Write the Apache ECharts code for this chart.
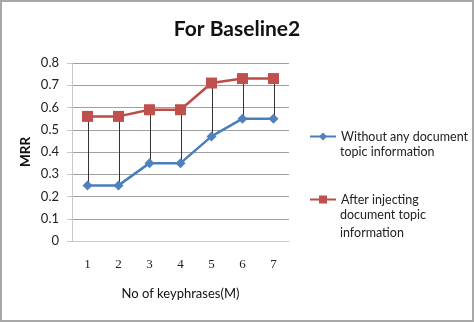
<!DOCTYPE html>
<html>
<head>
<meta charset="utf-8">
<script src="https://cdn.jsdelivr.net/npm/echarts@6/dist/echarts.min.js"></script>
<style>
  html, body { margin: 0; padding: 0; background: #fff; }
  #chart { width: 474px; height: 322px; }
</style>
</head>
<body>
<div id="chart"></div>
<script>
// MRR by number of keyphrases, with and without document topic information
const keyphrases = ['1', '2', '3', '4', '5', '6', '7'];
const withoutTopic = [0.25, 0.25, 0.35, 0.35, 0.47, 0.55, 0.55];
const withTopic = [0.56, 0.56, 0.59, 0.59, 0.71, 0.73, 0.73];
const yTicks = [0, 0.1, 0.2, 0.3, 0.4, 0.5, 0.6, 0.7, 0.8];

const nameWithout = 'Without any document';
const nameWith = 'After injecting';

const BLUE = '#4a7ebb';
const RED = '#be4b48';
const LEGEND_FONT = { fontFamily: 'Lato', fontSize: 12.5, color: '#222' };

const chart = echarts.init(document.getElementById('chart'), null, { renderer: 'canvas' });

// pair each category with its low/high value for the high-low connectors
const hiLo = keyphrases.map((k, i) => [i, withoutTopic[i], withTopic[i]]);

chart.setOption({
  backgroundColor: '#fff',
  animation: false,
  title: {
    text: 'For Baseline2',
    left: 'center',
    top: 14,
    textStyle: { fontFamily: 'Lato', fontSize: 21, fontWeight: 'bold', color: '#111' }
  },
  legend: [
    {
      data: [nameWithout],
      left: 304, top: 125,
      itemWidth: 26, itemHeight: 10,
      textStyle: LEGEND_FONT
    },
    {
      data: [nameWith],
      left: 304, top: 188,
      itemWidth: 26, itemHeight: 10,
      textStyle: LEGEND_FONT
    }
  ],
  grid: { left: 72, right: 185, top: 63, bottom: 81 },
  xAxis: {
    type: 'category',
    data: keyphrases,
    boundaryGap: true,
    name: 'No of keyphrases(M)',
    nameLocation: 'middle',
    nameGap: 46,
    nameTextStyle: { fontFamily: 'Lato', fontSize: 13, color: '#111' },
    axisLine: { lineStyle: { color: '#c8c8c8', width: 1 } },
    axisTick: { show: false },
    axisLabel: { fontFamily: 'Liberation Serif', fontSize: 13, color: '#222', margin: 17 }
  },
  yAxis: {
    type: 'value',
    min: yTicks[0],
    max: yTicks[yTicks.length - 1],
    interval: 0.1,
    name: 'MRR',
    nameLocation: 'middle',
    nameGap: 39,
    nameTextStyle: { fontFamily: 'Lato', fontSize: 13.5, fontWeight: 'bold', color: '#111' },
    axisLine: { show: true, lineStyle: { color: '#c8c8c8', width: 1 } },
    axisTick: { show: true, length: 5, lineStyle: { color: '#c8c8c8' } },
    axisLabel: {
      fontFamily: 'Lato', fontSize: 13, color: '#222', margin: 13,
      formatter: v => String(Math.round(v * 10) / 10)
    },
    splitLine: { lineStyle: { color: '#a0a0a0', width: 1 } }
  },
  series: [
    {
      type: 'custom',
      name: 'hi-lo',
      data: hiLo,
      z: 1,
      silent: true,
      renderItem: function (params, api) {
        const a = api.coord([api.value(0), api.value(1)]);
        const b = api.coord([api.value(0), api.value(2)]);
        return {
          type: 'line',
          shape: { x1: Math.round(a[0]) + 0.5, y1: a[1], x2: Math.round(b[0]) + 0.5, y2: b[1] },
          style: { stroke: '#333', lineWidth: 1 }
        };
      }
    },
    {
      type: 'line',
      name: nameWithout,
      data: withoutTopic,
      z: 3,
      symbol: 'diamond',
      symbolSize: 10,
      lineStyle: { color: BLUE, width: 2.5 },
      itemStyle: { color: '#4f81bd' }
    },
    {
      type: 'line',
      name: nameWith,
      data: withTopic,
      z: 4,
      symbol: 'rect',
      symbolSize: 11,
      lineStyle: { color: RED, width: 2.5 },
      itemStyle: { color: '#c0504d' }
    }
  ],
  graphic: [
    // outer frame
    {
      type: 'rect',
      shape: { x: 1, y: 1, width: 472, height: 320 },
      style: { fill: 'none', stroke: '#a8a8a8', lineWidth: 2 },
      silent: true
    },
    // continuation lines of the legend labels
    { type: 'text', left: 340, top: 145, style: { text: 'topic information', fill: '#222', font: '12.5px Lato' } },
    { type: 'text', left: 340, top: 208, style: { text: 'document topic', fill: '#222', font: '12.5px Lato' } },
    { type: 'text', left: 340, top: 226, style: { text: 'information', fill: '#222', font: '12.5px Lato' } }
  ]
});
</script>
</body>
</html>
